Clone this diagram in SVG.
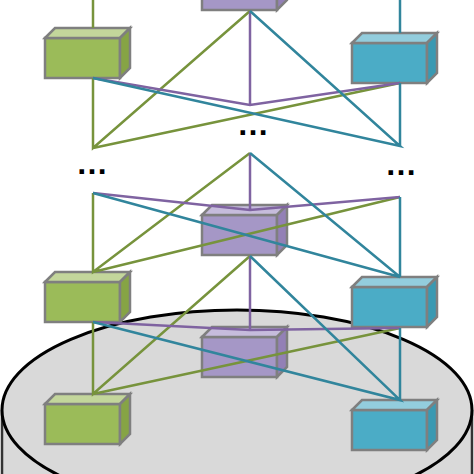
<svg xmlns="http://www.w3.org/2000/svg" width="474" height="474" viewBox="0 0 474 474">
<style>
polygon{stroke:#7f7f7f;stroke-width:2.5;stroke-linejoin:miter}
.g .f{fill:#9bbb59}.g .t{fill:#c3d69b}.g .s{fill:#86a445}
.p .f{fill:#a597c6}.p .t{fill:#c6bcdc}.p .s{fill:#9380b6}
.b .f{fill:#4bacc6}.b .t{fill:#93cddd}.b .s{fill:#3a99b2}
.lg{stroke:#77933c;stroke-width:2.5;fill:none}
.lp{stroke:#7f63a1;stroke-width:2.5;fill:none}
.lb{stroke:#31859c;stroke-width:2.5;fill:none}
.dots{font-family:"Liberation Sans",Arial,sans-serif;font-size:32px;font-weight:bold;fill:#000;text-anchor:middle}
</style>
<rect width="474" height="474" fill="#ffffff"/>
<g id="cylinder">
<rect x="2" y="410" width="470" height="70" fill="#d9d9d9"/>
<path d="M2,410 L2,476 M472,410 L472,476" stroke="#333" stroke-width="2.5" fill="none"/>
<ellipse cx="237" cy="410" rx="235" ry="100" fill="#d9d9d9" stroke="#000" stroke-width="3"/>
</g>
<g id="nodes">
<g id="g1" class="g" transform="translate(45,28)"><polygon class="f" points="0,10 75,10 75,50 0,50"/><polygon class="t" points="0,10 10,0 85,0 75,10"/><polygon class="s" points="75,10 85,0 85,40 75,50"/></g>
<g id="p1" class="p" transform="translate(202,-40)"><polygon class="f" points="0,10 75,10 75,50 0,50"/><polygon class="t" points="0,10 10,0 85,0 75,10"/><polygon class="s" points="75,10 85,0 85,40 75,50"/></g>
<g id="b1" class="b" transform="translate(352,33)"><polygon class="f" points="0,10 75,10 75,50 0,50"/><polygon class="t" points="0,10 10,0 85,0 75,10"/><polygon class="s" points="75,10 85,0 85,40 75,50"/></g>
<g id="g2" class="g" transform="translate(45,272)"><polygon class="f" points="0,10 75,10 75,50 0,50"/><polygon class="t" points="0,10 10,0 85,0 75,10"/><polygon class="s" points="75,10 85,0 85,40 75,50"/></g>
<g id="p2" class="p" transform="translate(202,205)"><polygon class="f" points="0,10 75,10 75,50 0,50"/><polygon class="t" points="0,10 10,0 85,0 75,10"/><polygon class="s" points="75,10 85,0 85,40 75,50"/></g>
<g id="b2" class="b" transform="translate(352,277)"><polygon class="f" points="0,10 75,10 75,50 0,50"/><polygon class="t" points="0,10 10,0 85,0 75,10"/><polygon class="s" points="75,10 85,0 85,40 75,50"/></g>
<g id="g3" class="g" transform="translate(45,394)"><polygon class="f" points="0,10 75,10 75,50 0,50"/><polygon class="t" points="0,10 10,0 85,0 75,10"/><polygon class="s" points="75,10 85,0 85,40 75,50"/></g>
<g id="p3" class="p" transform="translate(202,327)"><polygon class="f" points="0,10 75,10 75,50 0,50"/><polygon class="t" points="0,10 10,0 85,0 75,10"/><polygon class="s" points="75,10 85,0 85,40 75,50"/></g>
<g id="b3" class="b" transform="translate(352,400)"><polygon class="f" points="0,10 75,10 75,50 0,50"/><polygon class="t" points="0,10 10,0 85,0 75,10"/><polygon class="s" points="75,10 85,0 85,40 75,50"/></g>
</g>
<g id="connectors">
<path class="lg" d="M93,0 L93,28"/>
<path class="lb" d="M400,0 L400,33"/>
<path class="lg" d="M93,78 L93,148 L250,11 M93,148 L400,83"/>
<path class="lp" d="M93,78 L250,105 L400,83 M250,11 L250,105"/>
<path class="lb" d="M93,78 L400,146 L250,11 M400,83 L400,146"/>
<path class="lg" d="M93,193 L93,272 L250,153 M93,272 L400,197"/>
<path class="lp" d="M93,193 L250,210 L400,197 M250,153 L250,210"/>
<path class="lb" d="M93,193 L400,277 L250,153 M400,197 L400,277"/>
<path class="lg" d="M93,322 L93,394 L250,256 M93,394 L400,328"/>
<path class="lp" d="M93,322 L250,330 L400,328 M250,256 L250,330"/>
<path class="lb" d="M93,322 L400,400 L250,256 M400,328 L400,400"/>
</g>
<g id="labels">
<text class="dots" x="253" y="135">…</text>
<text class="dots" x="92" y="174">…</text>
<text class="dots" x="401" y="175">…</text>
</g>
</svg>
